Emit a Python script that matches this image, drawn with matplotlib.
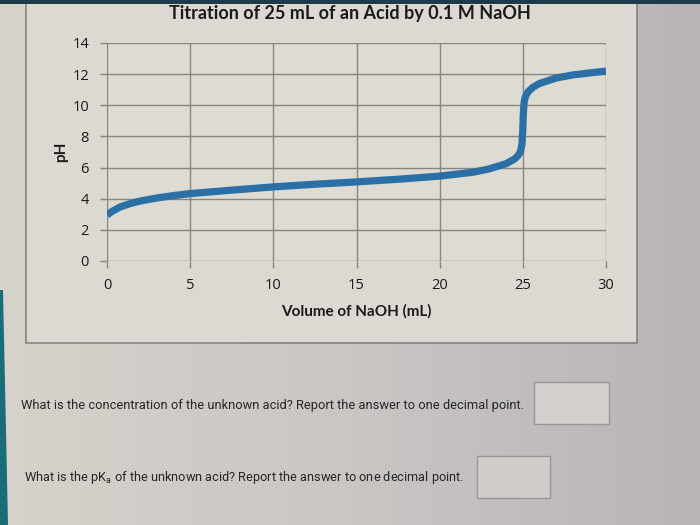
import numpy as np
import matplotlib
matplotlib.use("Agg")
import matplotlib.pyplot as plt
from matplotlib.patches import Rectangle, Polygon
from matplotlib.colors import LinearSegmentedColormap

# ---- data ----
volume_ml = [0, 0.25, 0.5, 0.75, 1, 1.5, 2, 3, 4, 5, 7.5, 10, 12.5, 15, 17.5, 20, 22,
             23, 24, 24.5, 24.7, 24.85, 24.95, 25.0, 25.03, 25.08, 25.15, 25.3, 25.6,
             26, 27, 28, 30]
ph_values = [2.95, 3.15, 3.3, 3.45, 3.55, 3.72, 3.85, 4.05, 4.2, 4.33, 4.55, 4.76,
             4.93, 5.08, 5.25, 5.45, 5.7, 5.92, 6.25, 6.55, 6.75, 7.0, 7.5, 8.5, 9.5,
             10.2, 10.55, 10.85, 11.15, 11.4, 11.75, 11.95, 12.2]
x_ticks = [0, 5, 10, 15, 20, 25, 30]
y_ticks = [0, 2, 4, 6, 8, 10, 12, 14]
title_text = "Titration of 25 mL of an Acid by 0.1 M NaOH"
x_label = "Volume of NaOH (mL)"
y_label = "pH"
question1 = "What is the concentration of the unknown acid? Report the answer to one decimal point."
question2 = "What is the pK$_\\mathregular{a}$ of the unknown acid? Report the answer to one decimal point."

W, H = 700, 525
fig = plt.figure(figsize=(7, 5.25), dpi=100)

# background (photo-like gradient)
bg = fig.add_axes([0, 0, 1, 1])
bg.set_xlim(0, W)
bg.set_ylim(H, 0)
bg.axis("off")
grad = np.outer(np.ones(50), np.linspace(0, 1, 200))
cmap = LinearSegmentedColormap.from_list("bgc", ["#d6d3cc", "#c9c6c4", "#b9b4b8"])
bg.imshow(grad, extent=[0, W, H, 0], aspect="auto", cmap=cmap, zorder=0)
# chart panel
bg.add_patch(Rectangle((26, -5), 611, 348, facecolor="#dcd9d2", edgecolor="#858280",
                       linewidth=1.2, zorder=1))
# top dark band
bg.add_patch(Rectangle((0, 0), W, 4, facecolor="#1d3c48", edgecolor="none", zorder=3))
# left teal strip
bg.add_patch(Polygon([[0, 290], [3, 290], [8, 525], [0, 525]], closed=True,
                     facecolor="#1a6d78", edgecolor="none", zorder=3))
# answer boxes
bg.add_patch(Rectangle((534, 382), 75, 42, facecolor="#d2cfcc", edgecolor="#9a9696",
                       linewidth=1, zorder=2))
bg.add_patch(Rectangle((477, 456), 73, 42, facecolor="#cfccca", edgecolor="#9a9696",
                       linewidth=1, zorder=2))
# title
bg.text(350, 5, title_text, ha="center", va="top", fontsize=13, fontweight="bold",
        family=["Lato", "DejaVu Sans"], color="#1a1a1a", zorder=2)
# questions
qfam = ["Roboto", "DejaVu Sans"]
bg.text(21, 406, question1, ha="left", va="center", fontsize=9.3, family=qfam,
        color="#262626", zorder=2)
bg.text(24, 478, question2, ha="left", va="center", fontsize=9.2, family=qfam,
        color="#262626", zorder=2)

# ---- main chart ----
ax = fig.add_axes([107 / W, 1 - 261 / H, (606 - 107) / W, (261 - 43) / H])
ax.set_facecolor("#dedbd3")
ax.plot(volume_ml, ph_values, color="#2a6fa5", linewidth=5.2,
        solid_capstyle="butt", solid_joinstyle="round", zorder=3)
ax.set_xlim(0, 30)
ax.set_ylim(0, 14)
ax.set_xticks(x_ticks)
ax.set_yticks(y_ticks)
ax.grid(True, color="#8a8580", linewidth=1.0)
ax.set_axisbelow(True)
for s in ax.spines.values():
    s.set_visible(False)
ax.tick_params(axis="both", length=5, width=1.0, color="#8a8580", labelsize=10.5,
               labelcolor="#1a1a1a")
ax.tick_params(axis="x", pad=7)
ax.tick_params(axis="y", pad=8)
for lab in ax.get_xticklabels() + ax.get_yticklabels():
    lab.set_family(["Open Sans", "DejaVu Sans"])
ax.set_xlabel(x_label, fontsize=11, fontweight="bold", family=["Lato", "DejaVu Sans"],
              labelpad=8, color="#1a1a1a")
ax.set_ylabel(y_label, fontsize=11, fontweight="bold", family=["Lato", "DejaVu Sans"],
              labelpad=3, color="#1a1a1a")

fig.savefig("out.png", dpi=100)
